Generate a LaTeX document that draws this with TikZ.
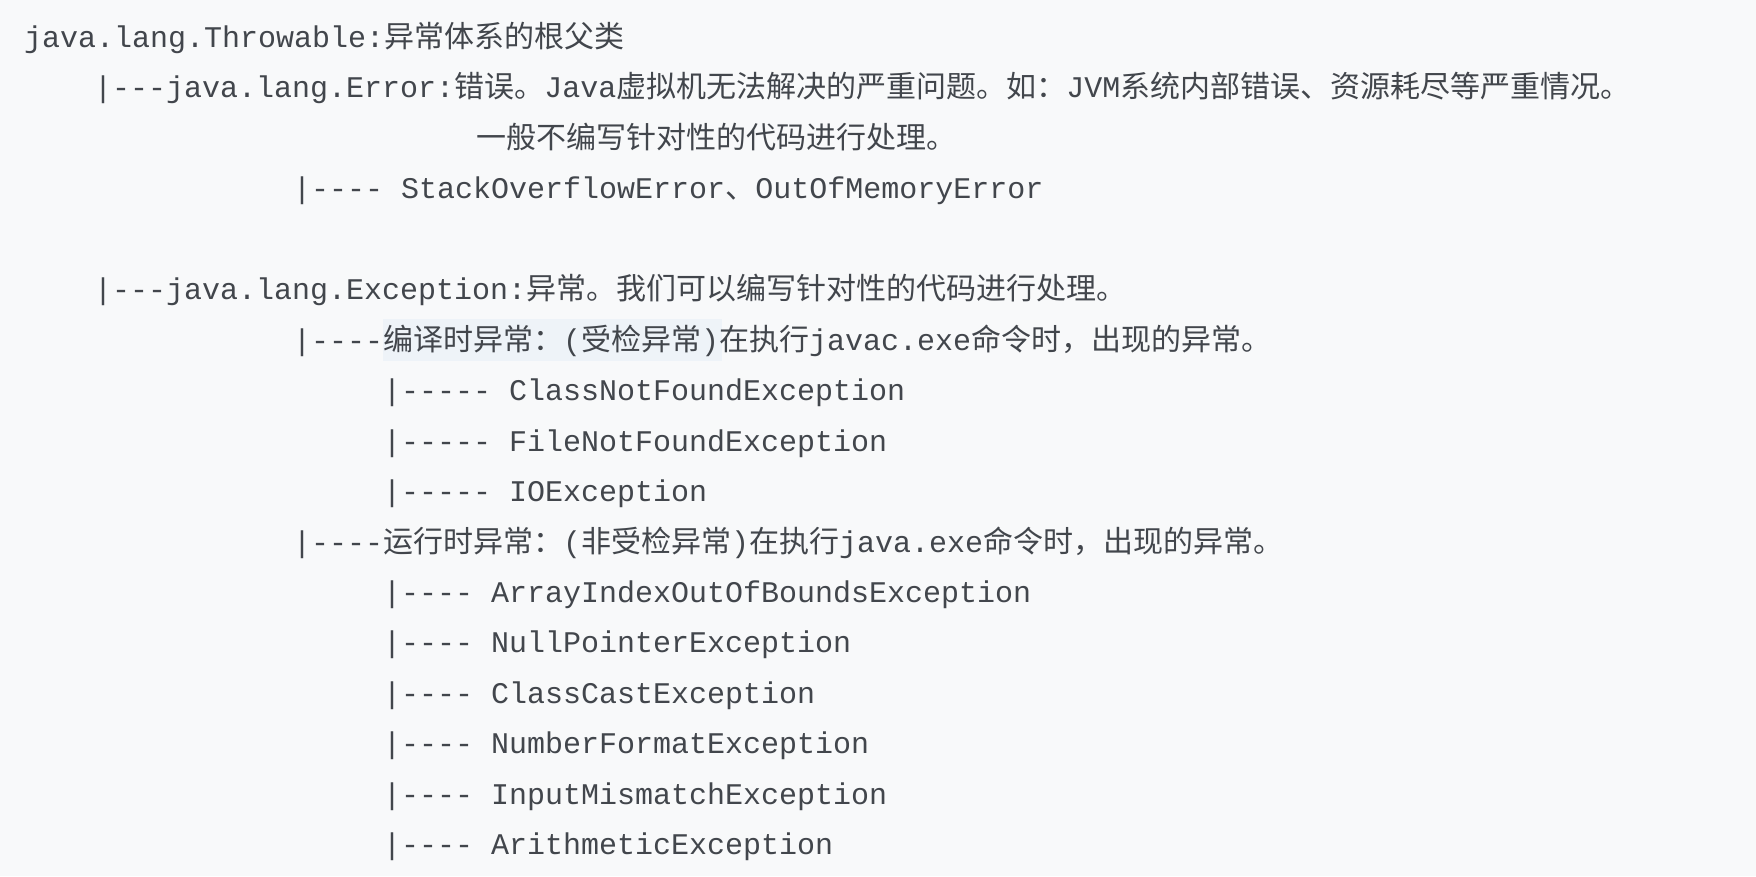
\documentclass[tikz,border=0pt]{standalone}
\usepackage{fontspec}
\setmonofont{Liberation Mono}
\newfontfamily\zhfont{Noto Sans CJK SC}
\newcommand\zh[1]{{\zhfont #1}}
\definecolor{txt}{RGB}{66,70,76}
\definecolor{bg}{RGB}{248,249,250}
\definecolor{hl}{RGB}{238,243,248}
\tikzset{ln/.style={anchor=base west, inner sep=0pt, text=txt, font=\fontsize{30}{36}\selectfont\ttfamily}}
\begin{document}
\begin{tikzpicture}[x=1pt,y=-1pt]
\fill[bg] (0,0) rectangle (1756,876);
\useasboundingbox (0,0) rectangle (1756,876);
\fill[hl] (383,319) rectangle (722,361);
\node[ln] (l1) at (24,47.5) {java.lang.Throwable:\zh{异常体系的根父类}};
\node[ln] (l2) at (94,97.9) {|---java.lang.Error:\zh{错误。}Java\zh{虚拟机无法解决的严重问题。如：}JVM\zh{系统内部错误、资源耗尽等严重情况。}};
\node[ln] (l3) at (476,148.4) {\zh{一般不编写针对性的代码进行处理。}};
\node[ln] (l4) at (293,198.8) {|---- StackOverflowError\zh{、}OutOfMemoryError};
\node[ln] (l5) at (94,299.7) {|---java.lang.Exception:\zh{异常。我们可以编写针对性的代码进行处理。}};
\node[ln] (l6) at (293,350.2) {|----\zh{编译时异常：}(\zh{受检异常})\zh{在执行}javac.exe\zh{命令时，出现的异常。}};
\node[ln] (l7) at (383,400.6) {|----- ClassNotFoundException};
\node[ln] (l8) at (383,451.1) {|----- FileNotFoundException};
\node[ln] (l9) at (383,501.5) {|----- IOException};
\node[ln] (l10) at (293,552.0) {|----\zh{运行时异常：}(\zh{非受检异常})\zh{在执行}java.exe\zh{命令时，出现的异常。}};
\node[ln] (l11) at (383,602.4) {|---- ArrayIndexOutOfBoundsException};
\node[ln] (l12) at (383,652.9) {|---- NullPointerException};
\node[ln] (l13) at (383,703.3) {|---- ClassCastException};
\node[ln] (l14) at (383,753.8) {|---- NumberFormatException};
\node[ln] (l15) at (383,804.2) {|---- InputMismatchException};
\node[ln] (l16) at (383,854.7) {|---- ArithmeticException};
\end{tikzpicture}
\end{document}
